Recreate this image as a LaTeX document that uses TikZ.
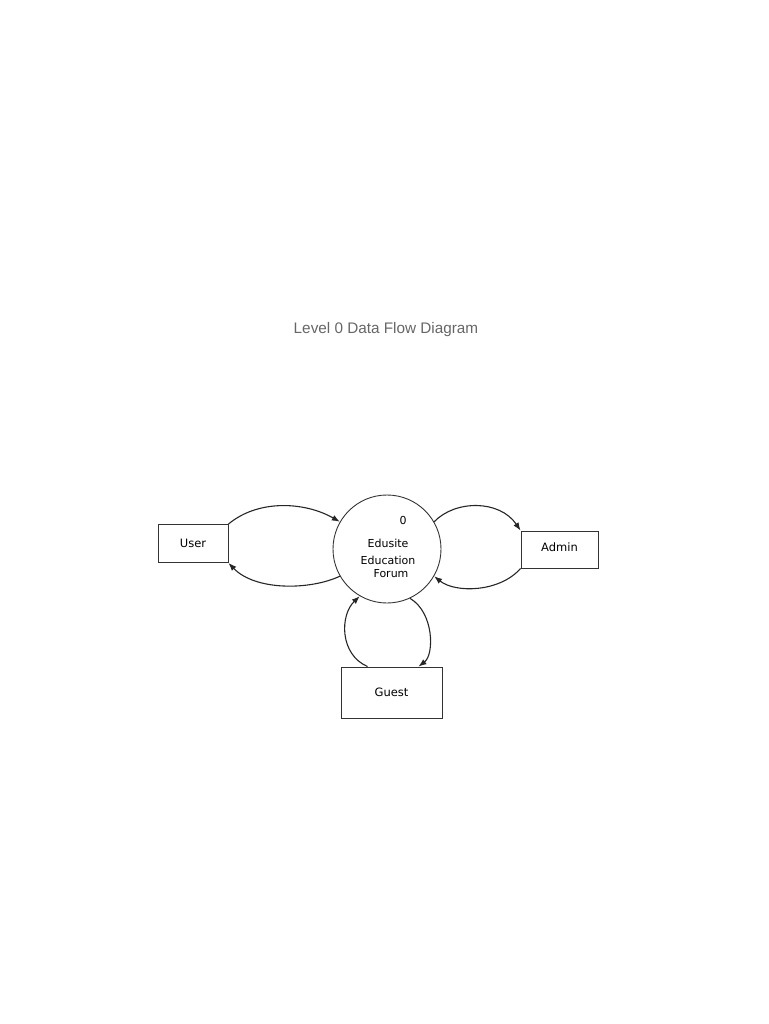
\documentclass[tikz,border=0pt]{standalone}
\usepackage{fontspec}
\setmainfont{DejaVu Sans}
\newfontfamily\titlefont{Liberation Sans}
\usetikzlibrary{arrows.meta,calc}
\begin{document}
\begin{tikzpicture}[x=1pt,y=-1pt,
  entity/.style={draw=black!80,line width=0.9pt,inner sep=0pt,font=\fontsize{11.5}{13}\selectfont},
  flow/.style={draw=black!85,line width=1.1pt,-{Latex[length=8pt,width=6pt]}},
  lbl/.style={font=\fontsize{11}{12}\selectfont,inner sep=0pt}]
\useasboundingbox (0,0) rectangle (768,1024);
\node[font=\titlefont\fontsize{15.3}{17}\selectfont,text=black!60] (title) at (386,330) {Level 0 Data Flow Diagram};
\node[circle,draw=black!80,line width=0.9pt,minimum size=108pt,inner sep=0pt] (p) at (387,549) {};
\node[lbl] (pn) at (403,520) {0};
\node[lbl] (pl1) at (388,543) {Edusite};
\node[lbl] (pl2) at (388,560.5) {Education};
\node[lbl] (pl3) at (391,574) {Forum};
\node[entity,minimum width=70pt,minimum height=38pt] (u) at (193,543.5) {User};
\node[entity,minimum width=77pt,minimum height=37pt] (a) at (559.5,549.5) {\raisebox{4pt}{Admin}};
\node[entity,minimum width=101pt,minimum height=51pt] (g) at (391.5,692.5) {Guest};
\coordinate (gl) at ($(g.north west)+(27,0)$);
\coordinate (gr) at ($(g.north east)+(-24,0)$);
\draw[flow] (u.north east) .. controls +(30,-25) and +(-35,-20) .. (p.150);
\draw[flow] (p.210) .. controls +(-30,14) and +(27,28) .. (u.south east);
\draw[flow] (p.30) .. controls +(21,-22) and +(-21,-31) .. (a.north west);
\draw[flow] (a.south west) .. controls +(-21,24) and +(21,17) .. (p.330);
\draw[flow] (gl) .. controls +(-28,-12) and +(-20,19) .. (p.240);
\draw[flow] (p.295) .. controls +(24,14) and +(16,-12) .. (gr);
\end{tikzpicture}
\end{document}
